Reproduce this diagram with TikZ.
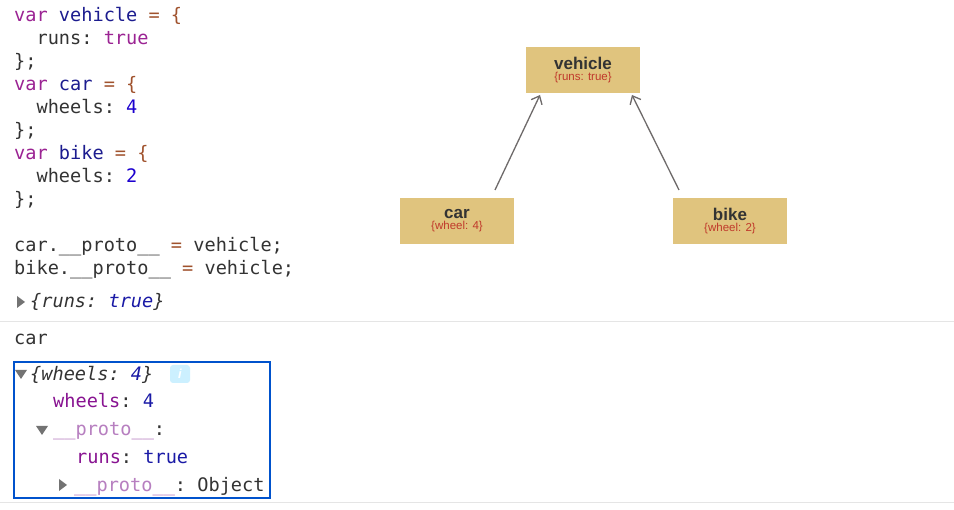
\documentclass[tikz,border=0pt]{standalone}
\usepackage{fontspec}
\usetikzlibrary{arrows.meta}
\setmainfont{Liberation Sans}
\setmonofont{DejaVu Sans Mono}
\definecolor{kw}{HTML}{9B2393}
\definecolor{id}{HTML}{1C1C8F}
\definecolor{pun}{HTML}{A0522D}
\definecolor{num}{HTML}{1C00CF}
\definecolor{txt}{HTML}{333333}
\definecolor{cprop}{HTML}{881391}
\definecolor{cproto}{HTML}{B77FC0}
\definecolor{cval}{HTML}{1A1AA6}
\definecolor{boxfill}{HTML}{E0C47E}
\definecolor{sub}{HTML}{C0392B}
\definecolor{arr}{HTML}{6E6A6A}
\begin{document}
\begin{tikzpicture}[x=1pt,y=-1pt,
  code/.style={anchor=base west,inner sep=0pt,font=\ttfamily\fontsize{18.6}{20}\selectfont,text=txt},
  objbox/.style={fill=boxfill,minimum width=114pt,minimum height=46pt,inner sep=0pt,align=center},
  link/.style={draw=arr,line width=1.3pt,-{Straight Barb[length=7pt,width=12pt]}},
  tri/.style={fill=gray!90!black}]
\useasboundingbox (0,0) rectangle (954,510);
\fill[white] (0,0) rectangle (954,510);
\node[code] (l1) at (14,22) {\textcolor{kw}{var} \textcolor{id}{vehicle} \textcolor{pun}{= \{}};
\node[code] (l2) at (14,45) {\ \ runs: \textcolor{kw}{true}};
\node[code] (l3) at (14,68) {\};};
\node[code] (l4) at (14,91) {\textcolor{kw}{var} \textcolor{id}{car} \textcolor{pun}{= \{}};
\node[code] (l5) at (14,114) {\ \ wheels: \textcolor{num}{4}};
\node[code] (l6) at (14,137) {\};};
\node[code] (l7) at (14,160) {\textcolor{kw}{var} \textcolor{id}{bike} \textcolor{pun}{= \{}};
\node[code] (l8) at (14,183) {\ \ wheels: \textcolor{num}{2}};
\node[code] (l9) at (14,206) {\};};
\node[code] (l10) at (14,252) {car.\_\_proto\_\_ \textcolor{pun}{=} vehicle;};
\node[code] (l11) at (14,275) {bike.\_\_proto\_\_ \textcolor{pun}{=} vehicle;};
\fill[tri] (17,296) -- (25,302) -- (17,308) -- cycle;
\node[code] (r1) at (30,308) {\itshape\{runs: \textcolor{cval}{true}\}};
\draw[gray!20] (0,321) -- (954,321);
\node[code] (c1) at (14,345) {car};
\fill[tri] (15,370) -- (27,370) -- (21,379) -- cycle;
\node[code] (o1) at (30,381) {\itshape\{wheels: \textcolor{cval}{4}\}};
\node[fill=blue!30!cyan!20!white,rounded corners=3pt,minimum width=20pt,minimum height=18pt,inner sep=0pt,text=white,font=\bfseries\itshape\fontsize{13}{13}\selectfont] (info) at (180,374) {i};
\node[code] (o2) at (53,408) {\textcolor{cprop}{wheels}: \textcolor{cval}{4}};
\fill[tri] (36,426) -- (48,426) -- (42,435) -- cycle;
\node[code] (o3) at (53,436) {\textcolor{cproto}{\_\_proto\_\_}:};
\node[code] (o4) at (76,464) {\textcolor{cprop}{runs}: \textcolor{cval}{true}};
\fill[tri] (59,479) -- (67,485) -- (59,491) -- cycle;
\node[code] (o5) at (74,492) {\textcolor{cproto}{\_\_proto\_\_}: Object};
\draw[draw=blue!60!cyan!80!black,line width=2.2pt] (14,362) rectangle (270,498);
\draw[gray!20] (0,502) -- (954,502);
\node[objbox] (veh) at (583,70) {\textcolor{txt}{\bfseries\fontsize{17}{19}\selectfont vehicle}\\[-1pt]\textcolor{sub}{\fontsize{11.5}{13}\selectfont\{runs: true\}}};
\node[objbox] (car) at (457,221) {\textcolor{txt}{\bfseries\fontsize{17}{19}\selectfont car}\\[-1pt]\textcolor{sub}{\fontsize{11.5}{13}\selectfont\{wheel: 4\}}};
\node[objbox] (bike) at (730,221) {\textcolor{txt}{\bfseries\fontsize{17}{19}\selectfont bike}\\[-1pt]\textcolor{sub}{\fontsize{11.5}{13}\selectfont\{wheel: 2\}}};
\coordinate (cs) at (495,190);
\coordinate (bs) at (679,190);
\draw[link] (cs) -- (540,95);
\draw[link] (bs) -- (632,95);
\end{tikzpicture}
\end{document}
